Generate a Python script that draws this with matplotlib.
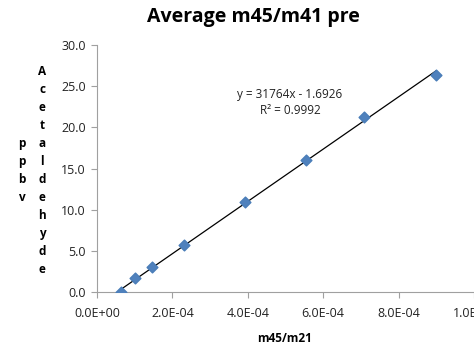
import matplotlib
matplotlib.use("Agg")
import matplotlib.pyplot as plt
import numpy as np

# values
ratio = [6.4e-5, 1.0e-4, 1.46e-4, 2.3e-4, 3.93e-4, 5.54e-4, 7.08e-4, 8.99e-4]
ppbv = [0.0, 1.7, 3.0, 5.7, 10.9, 16.0, 21.3, 26.4]
slope = 31764
intercept = -1.6926
x_ticks = [0, 2e-4, 4e-4, 6e-4, 8e-4, 1e-3]
x_tick_labels = ["0.0E+00", "2.0E-04", "4.0E-04", "6.0E-04", "8.0E-04", "1.0E-03"]
y_ticks = [0, 5, 10, 15, 20, 25, 30]

plt.rcParams["font.family"] = ["Open Sans", "DejaVu Sans"]

fig = plt.figure(figsize=(4.74, 3.61), dpi=100)
ax = fig.add_axes([0.2046, 0.191, 0.7954, 0.684])

xs = np.array([min(ratio), max(ratio)])
ax.plot(xs, slope * xs + intercept, color="black", lw=0.9, zorder=2)
ax.scatter(ratio, ppbv, marker="D", s=30, color="#4F81BD", edgecolor="#4A7DB8", zorder=3)

ax.set_xlim(0, 1e-3)
ax.set_ylim(0, 30)
ax.set_xticks(x_ticks)
ax.set_xticklabels(x_tick_labels)
ax.set_yticks(y_ticks)
ax.set_yticklabels([f"{v:.1f}" for v in y_ticks])
for s in ["top", "right"]:
    ax.spines[s].set_visible(False)
for s in ["left", "bottom"]:
    ax.spines[s].set_color("#a0a0a0")
ax.tick_params(colors="#a0a0a0", labelcolor="#222222", labelsize=9, length=4)
ax.tick_params(axis="x", pad=7)
ax.tick_params(axis="y", pad=4)

ax.text(5.12e-4, 23.0, "y = 31764x - 1.6926\nR² = 0.9992", ha="center", va="center",
        fontsize=8.5, color="#222222", linespacing=1.3)

fig.text(0.535, 0.952, "Average m45/m41 pre", ha="center", va="center", fontsize=14, fontweight="bold")
fig.text(0.601, 0.062, "m45/m21", ha="center", va="center", fontsize=8.5, fontweight="bold")
fig.text(0.089, 0.527, "\n".join("Acetaldehyde"), ha="center", va="center", fontsize=8.5,
         fontweight="bold", linespacing=1.5)
fig.text(0.047, 0.527, "\n".join("ppbv"), ha="center", va="center", fontsize=8.5,
         fontweight="bold", linespacing=1.5)

fig.savefig("out.png", dpi=100)
